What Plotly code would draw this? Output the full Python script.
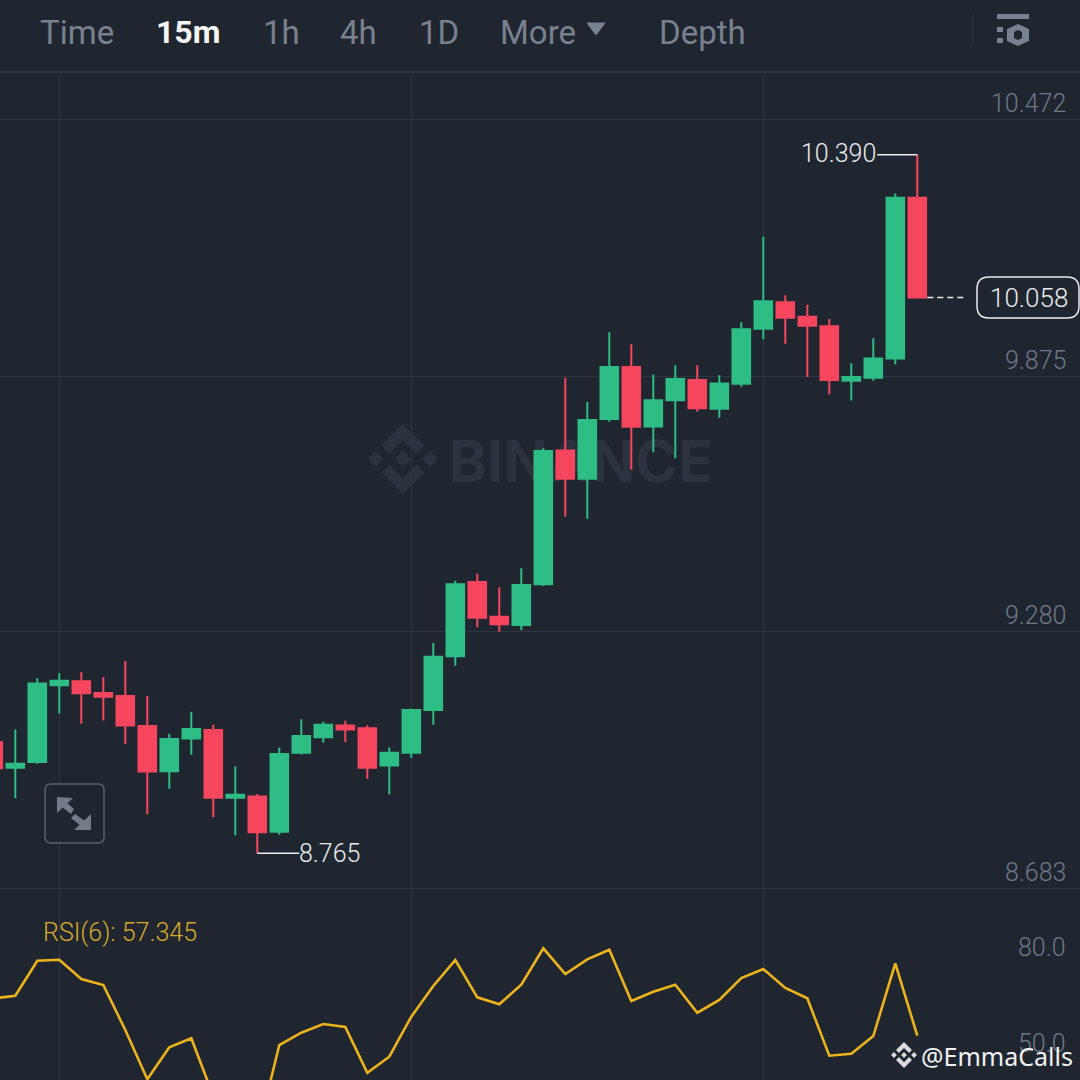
import plotly.graph_objects as go
from plotly.subplots import make_subplots

# Candle values
opens = [9.023, 8.964, 8.977, 9.156, 9.165, 9.138, 9.131, 9.061, 8.956, 9.032, 9.052,
         8.894, 8.897, 8.815, 8.999, 9.035, 9.062, 9.056, 8.969, 8.999, 9.098, 9.223,
         9.396, 9.315, 9.296, 9.391, 9.702, 9.636, 9.775, 9.896, 9.758, 9.819, 9.866,
         9.799, 9.857, 9.985, 10.047, 10.013, 9.991, 9.864, 9.871, 9.916, 10.290]
highs = [9.028, 9.053, 9.172, 9.184, 9.186, 9.175, 9.212, 9.131, 9.043, 9.094, 9.064,
         8.967, 8.903, 9.011, 9.077, 9.071, 9.073, 9.063, 9.011, 9.101, 9.254, 9.399,
         9.415, 9.384, 9.428, 9.707, 9.871, 9.815, 9.977, 9.949, 9.879, 9.900, 9.900,
         9.877, 10.000, 10.199, 10.063, 10.041, 10.008, 9.905, 9.963, 10.300, 10.390]
lows = [8.959, 8.893, 8.973, 9.090, 9.066, 9.074, 9.019, 8.856, 8.915, 8.994, 8.849,
        8.807, 8.765, 8.808, 8.995, 9.022, 9.023, 8.938, 8.902, 8.987, 9.064, 9.201,
        9.291, 9.280, 9.284, 9.387, 9.548, 9.543, 9.769, 9.657, 9.698, 9.684, 9.792,
        9.778, 9.850, 9.961, 9.950, 9.873, 9.833, 9.818, 9.864, 9.902, 10.058]
closes = [8.963, 8.973, 9.160, 9.166, 9.137, 9.129, 9.062, 8.955, 9.031, 9.054, 8.894,
          8.901, 8.814, 8.996, 9.038, 9.064, 9.053, 8.964, 8.999, 9.098, 9.222, 9.391,
          9.313, 9.298, 9.389, 9.701, 9.636, 9.773, 9.896, 9.757, 9.819, 9.868, 9.800,
          9.858, 9.984, 10.049, 10.011, 9.992, 9.866, 9.873, 9.916, 10.290, 10.058]
rsi = [69.10, 69.99, 81.04, 81.35, 75.26, 73.37, 59.16, 43.59, 53.69, 56.54, 38.32,
       35.50, 26.00, 54.42, 58.30, 61.05, 60.10, 45.67, 50.73, 63.36, 73.05, 81.26,
       69.48, 67.27, 73.46, 84.95, 76.84, 81.48, 84.51, 68.31, 71.25, 73.46, 64.62,
       68.63, 75.58, 78.42, 72.42, 69.17, 51.04, 51.67, 57.26, 80.22, 57.345]
candle_idx = list(range(len(opens)))

price_ticks = [10.472, 9.875, 9.280, 8.683]
price_labels = ['10.472', '9.875', '9.280', '8.683']
rsi_ticks = [80.0, 50.0]
rsi_labels = ['80.0', '50.0']
x_grid = [3, 19, 35]
menu_labels = ['Time', '15m', '1h', '4h', '1D', 'More', 'Depth']
menu_left = [41, 157, 264, 341, 420, 501, 660]

BG = '#1f2630'
GRID = '#2f3541'
GREEN = '#2ebd85'
RED = '#f6465d'
GOLD = '#ecb31c'
MUTED = '#707886'
LIGHT = '#eaecef'
FONT = 'Roboto'


# Everything around the chart is placed in screen pixels
def px(x):
    return x / 1080


def py(y):
    return 1 - y / 1080


def poly(points):
    return 'M' + ' L'.join(f'{px(x):.5f},{py(y):.5f}' for x, y in points) + ' Z'


def logo_paths(cx, cy, r):
    parts = [
        [(38.73, 53.2), (63.3, 28.63), (87.9, 53.22), (102.2, 38.92), (63.3, 0), (24.42, 38.9)],
        [(0, 63.3), (14.3, 49), (28.6, 63.3), (14.3, 77.6)],
        [(77.6, 63.3), (63.3, 49), (49, 63.3), (63.3, 77.6)],
        [(38.73, 73.41), (24.41, 87.7), (63.3, 126.6), (102.2, 87.7), (87.9, 73.4), (63.3, 97.98)],
        [(98, 63.3), (112.3, 49), (126.6, 63.3), (112.3, 77.6)],
    ]
    k = r / 63.3
    return [poly([(cx + (a - 63.3) * k, cy + (b - 63.3) * k) for a, b in p]) for p in parts]


def add_shape(path, fill=None, line=None, width=0, layer='above', dash=None):
    fig.add_shape(type='path', xref='paper', yref='paper', path=path, layer=layer,
                  fillcolor=fill or 'rgba(0,0,0,0)',
                  line=dict(color=line or 'rgba(0,0,0,0)', width=width, dash=dash))


def add_text(text, x, y, size, color, anchor='left', family=FONT, weight=300):
    # annotations carry a small inner pad, take it off so x is the glyph edge
    shift = {'left': -3, 'center': 0, 'right': 3}[anchor]
    fig.add_annotation(text=text, xref='paper', yref='paper', x=px(x), y=py(y), xshift=shift,
                       xanchor=anchor, yanchor='middle', showarrow=False,
                       font=dict(family=family, size=size, color=color, weight=weight))


fig = make_subplots(rows=2, cols=1, shared_xaxes=True, vertical_spacing=0)

fig.add_trace(go.Candlestick(x=candle_idx, open=opens, high=highs, low=lows, close=closes,
                             whiskerwidth=0,
                             increasing=dict(fillcolor=GREEN, line=dict(color=GREEN, width=2)),
                             decreasing=dict(fillcolor=RED, line=dict(color=RED, width=2))),
              row=1, col=1)
fig.add_trace(go.Scatter(x=candle_idx, y=rsi, mode='lines',
                         line=dict(color=GOLD, width=2.6)), row=2, col=1)

fig.update_layout(width=1080, height=1080, margin=dict(l=0, r=0, t=0, b=0),
                  paper_bgcolor=BG, plot_bgcolor=BG, showlegend=False,
                  boxgap=0.2, boxgroupgap=0, font=dict(family=FONT))

x_range = [6.7 / 22, 1086.7 / 22]
fig.update_xaxes(range=x_range, tickvals=x_grid, showticklabels=False, showgrid=True,
                 gridcolor=GRID, gridwidth=1, zeroline=False, showline=False, ticks='',
                 rangeslider_visible=False)
fig.update_yaxes(range=[8.6795, 10.5778], domain=[190 / 1080, 1006 / 1080], tickvals=price_ticks,
                 showticklabels=False, showgrid=True, gridcolor=GRID, gridwidth=1,
                 zeroline=False, showline=False, ticks='', row=1, col=1)
fig.update_yaxes(range=[43.37, 103.36], domain=[0, 190 / 1080], tickvals=rsi_ticks,
                 showticklabels=False, showgrid=False, zeroline=False, showline=False,
                 ticks='', row=2, col=1)

# Right side labels sit just above their gridlines
for val, lab in zip(price_ticks, price_labels):
    fig.add_annotation(text=lab, xref='paper', yref='y', x=px(1068), y=val, yshift=16,
                       xanchor='right', yanchor='middle', showarrow=False,
                       font=dict(family=FONT, size=25, color=MUTED, weight=300))
for val, lab in zip(rsi_ticks, rsi_labels):
    fig.add_annotation(text=lab, xref='paper', yref='y2', x=px(1068), y=val, yshift=16,
                       xanchor='right', yanchor='middle', showarrow=False,
                       font=dict(family=FONT, size=25, color=MUTED, weight=300))

# Highest and lowest price markers
hi_i = highs.index(max(highs))
lo_i = lows.index(min(lows))
fig.add_shape(type='line', xref='x', yref='y', x0=hi_i - 40 / 22, x1=hi_i, y0=highs[hi_i], y1=highs[hi_i],
              line=dict(color=LIGHT, width=1.5))
fig.add_shape(type='line', xref='x', yref='y', x0=lo_i, x1=lo_i + 42 / 22, y0=lows[lo_i], y1=lows[lo_i],
              line=dict(color=LIGHT, width=1.5))
fig.add_annotation(text=f'{highs[hi_i]:.3f}', xref='x', yref='y', x=hi_i - 39 / 22, y=highs[hi_i], yshift=1,
                   xanchor='right', yanchor='middle', showarrow=False,
                   font=dict(family=FONT, size=25, color=LIGHT, weight=300))
fig.add_annotation(text=f'{lows[lo_i]:.3f}', xref='x', yref='y', x=lo_i + 40 / 22, y=lows[lo_i],
                   xanchor='left', yanchor='middle', showarrow=False,
                   font=dict(family=FONT, size=25, color=LIGHT, weight=300))

# Last price
last_i = candle_idx[-1]
fig.add_shape(type='line', xref='x', yref='y', x0=last_i + 10 / 22, x1=last_i + 50 / 22,
              y0=closes[-1], y1=closes[-1], line=dict(color=LIGHT, width=1.5, dash='6px,4px'))
bx0, bx1, by0, by1, rad = 977, 1079, 277, 318, 12
box = (f'M{px(bx0 + rad)},{py(by0)} L{px(bx1 - rad)},{py(by0)} Q{px(bx1)},{py(by0)} {px(bx1)},{py(by0 + rad)} '
       f'L{px(bx1)},{py(by1 - rad)} Q{px(bx1)},{py(by1)} {px(bx1 - rad)},{py(by1)} L{px(bx0 + rad)},{py(by1)} '
       f'Q{px(bx0)},{py(by1)} {px(bx0)},{py(by1 - rad)} L{px(bx0)},{py(by0 + rad)} Q{px(bx0)},{py(by0)} {px(bx0 + rad)},{py(by0)} Z')
add_shape(box, fill=BG, line=LIGHT, width=1.5)
add_text(f'{closes[-1]:.3f}', 1029, 298, 26, LIGHT, anchor='center')

# RSI title
add_text(f'RSI(6): {rsi[-1]:.3f}', 44, 932, 25, '#d9a927')

# Watermark under the candles
for p in logo_paths(403, 459, 35):
    add_shape(p, fill='#2d333e', layer='below')
fig.add_shape(type='rect', xref='paper', yref='paper', x0=px(450), x1=px(712), y0=py(490), y1=py(428),
              layer='below', line=dict(width=0), fillcolor='rgba(0,0,0,0)',
              label=dict(text='<b>BINANCE</b>', textposition='middle center',
                         font=dict(family='Inter', size=58, color='#2d333e')))

# Top menu
fig.add_shape(type='rect', xref='paper', yref='paper', x0=0, x1=1, y0=py(73), y1=py(71),
              fillcolor=GRID, line=dict(width=0))
for lab, left in zip(menu_labels, menu_left):
    if lab == '15m':
        add_text(lab, left, 32, 32, '#f5f5f5', weight=700)
    else:
        add_text(lab, left, 32, 33, '#79808e', weight=400)
add_shape(poly([(587, 23), (605, 23), (596, 35)]), fill='#79808e', line='#79808e', width=1)
add_shape(poly([(972, 14), (973, 14), (973, 46), (972, 46)]), fill=GRID)
icon = '#79808e'
add_shape(poly([(997, 14), (1029, 14), (1029, 19), (997, 19)]), fill=icon)
add_shape(poly([(997, 27), (1003, 27), (1003, 32), (997, 32)]), fill=icon)
add_shape(poly([(997, 38), (1003, 38), (1003, 43), (997, 43)]), fill=icon)
add_shape(poly([(1018, 24), (1029, 29), (1029, 41), (1018, 46), (1007, 41), (1007, 29)]), fill=icon)
add_shape(poly([(1018, 30), (1022, 32), (1022, 38), (1018, 40), (1014, 38), (1014, 32)]), fill=BG)

# Expand button
ex0, ex1, ey0, ey1, er = 45, 104, 784, 843, 6
btn = (f'M{px(ex0 + er)},{py(ey0)} L{px(ex1 - er)},{py(ey0)} Q{px(ex1)},{py(ey0)} {px(ex1)},{py(ey0 + er)} '
       f'L{px(ex1)},{py(ey1 - er)} Q{px(ex1)},{py(ey1)} {px(ex1 - er)},{py(ey1)} L{px(ex0 + er)},{py(ey1)} '
       f'Q{px(ex0)},{py(ey1)} {px(ex0)},{py(ey1 - er)} L{px(ex0)},{py(ey0 + er)} Q{px(ex0)},{py(ey0)} {px(ex0 + er)},{py(ey0)} Z')
add_shape(btn, fill=BG, line='#5b626e', width=1.5)
add_shape(poly([(57, 797), (73, 798), (57, 813)]), fill='#757c88')
add_shape(poly([(91, 830), (91, 814), (74, 830)]), fill='#757c88')
add_shape(poly([(66, 802), (74, 809), (71, 814), (62, 807)]), fill='#757c88')
add_shape(poly([(75, 814), (85, 821), (81, 826), (71, 818)]), fill='#757c88')

# Handle at the bottom
for p in logo_paths(904, 1055, 13):
    add_shape(p, fill='#dcdcdc')
add_text('@EmmaCalls', 922, 1056, 25, '#f2f2f2', family='Noto Sans', weight=400)

fig.write_html('out.html', config=dict(displayModeBar=False),
               post_script="document.body.style.margin='0';document.body.style.overflow='hidden';")
